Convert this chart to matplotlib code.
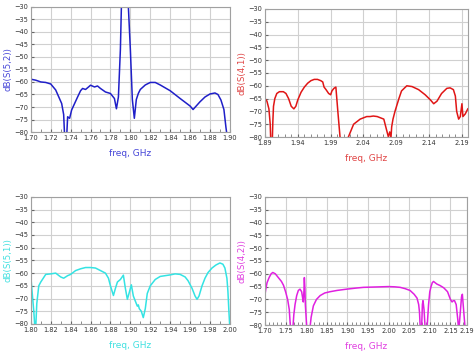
import numpy as np
import matplotlib
matplotlib.use("Agg")
import matplotlib.pyplot as plt
from matplotlib.ticker import MultipleLocator

# S(5,2)
f52 = [1.700, 1.705, 1.710, 1.715, 1.720, 1.725, 1.728, 1.731, 1.733, 1.734, 1.735, 1.736,
       1.737, 1.739, 1.741, 1.744, 1.747, 1.750, 1.752, 1.755, 1.758, 1.760, 1.764, 1.767,
       1.770, 1.775, 1.780, 1.784, 1.786, 1.788, 1.790, 1.791, 1.793, 1.796, 1.798, 1.800,
       1.802, 1.804, 1.806, 1.808, 1.810, 1.815, 1.820, 1.825, 1.830, 1.840, 1.850, 1.860,
       1.863, 1.870, 1.875, 1.880, 1.885, 1.888, 1.891, 1.894, 1.896, 1.897, 1.898]
s52 = [-58.9, -59.3, -60.0, -60.2, -60.8, -63.2, -65.9, -68.6, -73.0, -82.0, -85.0, -82.0,
       -73.9, -74.5, -71.2, -68.6, -66.0, -63.5, -62.6, -63.0, -62.0, -61.3, -62.0, -61.6,
       -62.6, -64.0, -64.6, -66.6, -70.7, -66.0, -47.0, -30.0, -20.0, -20.0, -30.0, -47.0,
       -67.0, -74.5, -67.0, -64.6, -63.0, -61.2, -60.2, -60.2, -61.2, -63.5, -66.6, -69.6,
       -71.0, -67.9, -66.0, -64.8, -64.4, -65.0, -67.2, -71.0, -78.0, -81.0, -85.0]

# S(4,1)
f41 = [1.890, 1.893, 1.896, 1.898, 1.899, 1.901, 1.902, 1.903, 1.905, 1.908, 1.912, 1.918,
       1.922, 1.926, 1.930, 1.934, 1.937, 1.940, 1.945, 1.950, 1.955, 1.960, 1.965, 1.970,
       1.975, 1.978, 1.980, 1.983, 1.987, 1.990, 1.992, 1.995, 1.998, 2.001, 2.005, 2.010,
       2.017, 2.021, 2.025, 2.030, 2.035, 2.040, 2.045, 2.050, 2.055, 2.061, 2.066, 2.071,
       2.073, 2.076, 2.078, 2.080, 2.082, 2.083, 2.085, 2.088, 2.094, 2.098, 2.106, 2.114,
       2.124, 2.134, 2.142, 2.147, 2.152, 2.159, 2.167, 2.172, 2.177, 2.180, 2.182, 2.185,
       2.1875, 2.190, 2.1915, 2.195, 2.199]
s41 = [-65.0, -66.0, -69.0, -75.0, -83.0, -83.0, -74.0, -68.0, -65.0, -63.0, -62.3, -62.3,
       -63.0, -65.0, -68.0, -69.0, -68.0, -65.5, -62.5, -60.5, -59.0, -58.0, -57.5, -57.5,
       -58.0, -58.5, -60.5, -61.5, -63.0, -63.5, -62.0, -61.0, -60.5, -70.0, -82.0, -85.0,
       -80.0, -77.5, -75.0, -74.0, -73.0, -72.5, -72.0, -72.0, -71.8, -72.0, -72.5, -73.0,
       -75.0, -78.0, -80.0, -78.0, -80.0, -76.0, -73.0, -70.0, -65.0, -62.0, -60.0, -60.3,
       -61.5, -63.5, -65.5, -67.0, -66.0, -63.0, -61.0, -60.8, -61.5, -64.0, -70.0, -73.0,
       -72.0, -67.0, -72.0, -71.0, -69.0]

# S(5,1)
f51 = [1.800, 1.801, 1.803, 1.804, 1.805, 1.806, 1.808, 1.810, 1.815, 1.820, 1.825, 1.830,
       1.833, 1.837, 1.840, 1.845, 1.850, 1.855, 1.860, 1.865, 1.870, 1.875, 1.878, 1.880,
       1.883, 1.885, 1.887, 1.890, 1.893, 1.895, 1.897, 1.899, 1.901, 1.903, 1.905, 1.907,
       1.908, 1.909, 1.911, 1.913, 1.915, 1.917, 1.920, 1.925, 1.930, 1.935, 1.940, 1.945,
       1.950, 1.955, 1.958, 1.962, 1.965, 1.967, 1.969, 1.972, 1.975, 1.978, 1.982, 1.986,
       1.990, 1.993, 1.995, 1.997, 1.998, 1.999, 2.000]
s51 = [-61.0, -66.0, -75.0, -81.0, -81.0, -72.0, -65.0, -63.5, -60.5, -60.3, -60.0, -61.5,
       -62.0, -61.0, -60.5, -59.0, -58.3, -57.8, -57.8, -58.0, -59.0, -60.0, -62.0, -65.0,
       -68.8, -66.0, -63.5, -62.5, -60.8, -66.0, -70.3, -67.5, -64.6, -69.0, -71.0, -73.0,
       -72.5, -74.0, -75.0, -77.5, -74.0, -68.0, -65.0, -62.5, -61.3, -61.0, -60.7, -60.3,
       -60.5, -61.5, -63.0, -66.0, -69.0, -70.3, -69.0, -65.0, -62.0, -59.8, -58.0, -56.8,
       -56.0, -56.5, -58.0, -62.0, -67.0, -75.0, -82.0]

# S(4,2)
f42 = [1.700, 1.702, 1.705, 1.710, 1.715, 1.719, 1.725, 1.730, 1.735, 1.740, 1.745, 1.750,
       1.755, 1.759, 1.761, 1.763, 1.767, 1.770, 1.773, 1.777, 1.781, 1.785, 1.789, 1.791,
       1.793, 1.7945, 1.7956, 1.797, 1.798, 1.801, 1.803, 1.808, 1.812, 1.8175, 1.825, 1.834,
       1.845, 1.858, 1.875, 1.8985, 1.920, 1.939, 1.960, 1.980, 2.000, 2.015, 2.028, 2.040,
       2.052, 2.062, 2.069, 2.073, 2.075, 2.077, 2.080, 2.082, 2.0835, 2.086, 2.089, 2.093,
       2.097, 2.100, 2.103, 2.106, 2.109, 2.117, 2.125, 2.134, 2.143, 2.150, 2.154, 2.157,
       2.160, 2.164, 2.168, 2.170, 2.172, 2.174, 2.177, 2.179, 2.181, 2.185, 2.187]
s42 = [-68.3, -66.0, -63.5, -61.5, -60.0, -59.5, -60.0, -61.0, -62.0, -63.0, -64.5, -67.0,
       -70.0, -74.0, -79.0, -83.0, -83.0, -76.0, -72.0, -68.5, -66.5, -66.0, -67.0, -69.0,
       -71.0, -67.0, -61.5, -66.0, -72.0, -80.0, -83.0, -83.0, -77.0, -72.5, -70.0, -68.5,
       -67.5, -67.0, -66.5, -66.0, -65.6, -65.3, -65.2, -65.1, -65.0, -65.1, -65.3, -65.8,
       -66.5, -68.0, -69.5, -72.0, -75.0, -82.0, -82.0, -72.0, -70.5, -74.0, -82.0, -82.0,
       -72.0, -67.0, -65.0, -63.5, -63.0, -64.0, -64.6, -65.5, -67.0, -70.0, -71.0, -70.5,
       -70.5, -72.0, -78.0, -82.0, -79.0, -75.0, -69.0, -68.0, -72.0, -80.0, -83.0]

ticks52 = [1.70, 1.72, 1.74, 1.76, 1.78, 1.80, 1.82, 1.84, 1.86, 1.88, 1.90]
ticks41 = [1.89, 1.94, 1.99, 2.04, 2.09, 2.14, 2.19]
ticks51 = [1.80, 1.82, 1.84, 1.86, 1.88, 1.90, 1.92, 1.94, 1.96, 1.98, 2.00]
ticks42 = [1.70, 1.75, 1.80, 1.85, 1.90, 1.95, 2.00, 2.05, 2.10, 2.15, 2.19]

panels = [
    dict(f=f52, s=s52, lab="dB(S(5,2))", c="#1f1fc8", lc="#4646d8",
         xlim=(1.70, 1.90), ticks=ticks52, rect=[0.065, 0.629, 0.420, 0.352]),
    dict(f=f41, s=s41, lab="dB(S(4,1))", c="#e01515", lc="#e04545",
         xlim=(1.89, 2.199), ticks=ticks41, rect=[0.559, 0.615, 0.428, 0.360]),
    dict(f=f51, s=s51, lab="dB(S(5,1))", c="#33e3e3", lc="#40e0e0",
         xlim=(1.80, 2.00), ticks=ticks51, rect=[0.065, 0.090, 0.420, 0.357]),
    dict(f=f42, s=s42, lab="dB(S(4,2))", c="#e020e0", lc="#e040e0",
         xlim=(1.70, 2.19), ticks=ticks42, rect=[0.559, 0.087, 0.426, 0.360]),
]

fig = plt.figure(figsize=(4.74, 3.56), dpi=100)
fig.patch.set_facecolor("white")

for p in panels:
    ax = fig.add_axes(p["rect"])
    ax.plot(p["f"], p["s"], color=p["c"], lw=1.1)
    ax.set_xlim(*p["xlim"])
    ax.set_ylim(-80, -30)
    ax.set_xticks(p["ticks"])
    ax.set_xticklabels(["%.2f" % t for t in p["ticks"]])
    ax.xaxis.set_minor_locator(MultipleLocator(0.01))
    ax.set_yticks(np.arange(-80, -29, 5))
    ax.grid(True, which="major", color="#d0d0d0", lw=0.8)
    ax.tick_params(axis="both", which="major", labelsize=4.8, length=2.5,
                   direction="in", colors="#666666", labelcolor="#333333", pad=2)
    ax.tick_params(axis="x", which="minor", length=2, direction="in", colors="#777777")
    for sp in ax.spines.values():
        sp.set_color("#a0a0a0")
        sp.set_linewidth(0.8)
    ax.set_ylabel(p["lab"], color=p["lc"], fontsize=6.2, labelpad=1)
    ax.set_xlabel("freq, GHz", color=p["lc"], fontsize=6.5, labelpad=6)

fig.savefig("out.png", dpi=100)
